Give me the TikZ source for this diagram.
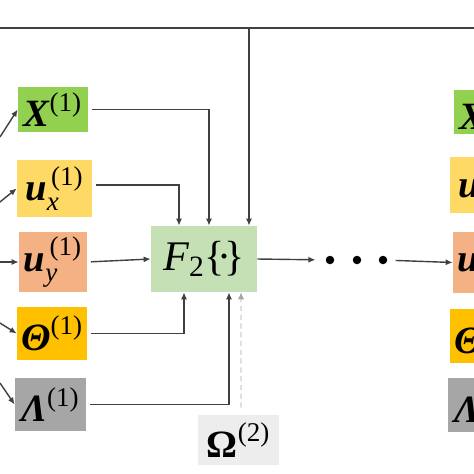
\documentclass[tikz,border=0pt]{standalone}
\usepackage{amsmath}
\usepackage{fontspec}
\setmainfont{Liberation Serif}
\usetikzlibrary{arrows.meta}

\definecolor{xgreen}{HTML}{92D050}
\definecolor{uxyellow}{HTML}{FFD966}
\definecolor{uysalmon}{HTML}{F4B183}
\definecolor{thorange}{HTML}{FFC000}
\definecolor{lagray}{HTML}{A6A6A6}
\definecolor{fgreen}{HTML}{C5E0B4}
\definecolor{omgray}{HTML}{EDEDED}
\definecolor{wire}{HTML}{404040}

\newcommand{\bi}[1]{\text{\bfseries\itshape #1}}
% u with index below and step above
\newcommand{\uvar}[2]{{\bi{u}\vphantom{\text{Xy}}}_{\text{\itshape #1}}^{\,\text{(#2)}}}

\begin{document}
\begin{tikzpicture}[x=0.02cm, y=-0.02cm,
    varbox/.style={inner sep=0pt, font=\fontsize{22}{26}\selectfont},
    arr/.style={draw=wire, line width=0.8pt, -{Latex[length=4pt,width=3.5pt]}},
    dot/.style={circle, fill=black, inner sep=0pt, minimum size=0.17cm}]
    \useasboundingbox (0,0) rectangle (474,474);
    \clip (0,0) rectangle (474,474);

    % step 1 inputs
    \node[varbox, fill=xgreen, minimum width=1.4cm, minimum height=0.9cm] (X) at (53,109.5) {$\bi{X}^{\text{(1)}}$};
    \node[varbox, fill=uxyellow, minimum width=1.5cm, minimum height=1.14cm] (ux) at (54.5,188.5) {$\uvar{x}{1}$};
    \node[varbox, fill=uysalmon, minimum width=1.36cm, minimum height=1.2cm] (uy) at (53,262) {$\uvar{y}{1}$};
    \node[varbox, fill=thorange, minimum width=1.4cm, minimum height=1.06cm] (Th) at (52,333.5) {$\bi{Θ}^{\text{(1)}}$};
    \node[varbox, fill=lagray, minimum width=1.42cm, minimum height=1.06cm] (La) at (50.5,404.5) {$\bi{Λ}^{\text{(1)}}$};

    % operator and parameters
    \node[varbox, fill=fgreen, minimum width=2.12cm, minimum height=1.32cm, font=\fontsize{24}{28}\selectfont] (F) at (204,259) {$\text{\itshape F}_{\text{2}}\text{\{}\!\text{·}\!\text{\}}$};
    \node[varbox, fill=omgray, minimum width=1.62cm, minimum height=1.0cm] (Om) at (238.5,440) {$\text{\bfseries Ω}^{\text{(2)}}$};

    \node[dot] (d1) at (330,260) {};
    \node[dot] (d2) at (357,260) {};
    \node[dot] (d3) at (383,260) {};

    % last step (cut off)
    \node[varbox, fill=xgreen, minimum width=1.4cm, minimum height=0.9cm] (X2) at (489,112) {$\bi{X}^{\text{(2)}}$};
    \node[varbox, fill=uxyellow, minimum width=1.5cm, minimum height=1.12cm] (ux2) at (487.5,185) {$\uvar{x}{2}$};
    \node[varbox, fill=uysalmon, minimum width=1.36cm, minimum height=1.22cm] (uy2) at (487,262.5) {$\uvar{y}{2}$};
    \node[varbox, fill=thorange, minimum width=1.4cm, minimum height=1.08cm] (Th2) at (485,336) {$\bi{Θ}^{\text{(2)}}$};
    \node[varbox, fill=lagray, minimum width=1.42cm, minimum height=1.08cm] (La2) at (483.5,405) {$\bi{Λ}^{\text{(2)}}$};

    % incoming from the left edge
    \coordinate (iX) at (0,137);
    \coordinate (iux) at (0,202);
    \coordinate (iuy) at (0,262);
    \coordinate (iTh) at (0,323);
    \coordinate (iLa) at (0,383);
    \draw[arr] (iX) -- (X.west);
    \draw[arr] (iux) -- (ux.west);
    \draw[arr] (iuy) -- (uy.west);
    \draw[arr] (iTh) -- (Th.west);
    \draw[arr] (iLa) -- (La.west);

    % top feedback line
    \coordinate (tl) at (0,28);
    \coordinate (tr) at (474,28);
    \coordinate (tj) at (249,28);
    \draw[wire, line width=0.8pt] (tl) -- (tr);
    \draw[arr] (tj) -- (tj |- F.north);

    \draw[arr, shorten <=2pt] (X.east) -| ([xshift=0.1cm]F.north);
    \draw[arr, shorten <=2pt] ([yshift=0.07cm]ux.east) -| ([xshift=-0.5cm]F.north);
    \draw[arr, shorten <=2pt] (uy.east) -- (F.west);
    \draw[arr, shorten <=2pt] (Th.east) -| ([xshift=-0.4cm]F.south);
    \draw[arr, shorten <=2pt] (La.east) -| ([xshift=0.5cm]F.south);
    \draw[gray!70, densely dashed, line width=0.5pt, -{Latex[length=4pt,width=3.5pt]}] ([xshift=0.05cm,yshift=0.14cm]Om.north) -- ([xshift=0.74cm]F.south);

    \draw[arr, shorten >=0.2cm] (F.east) -- (d1);
    \draw[arr, shorten <=0.16cm] (d3) -- (uy2.west);
\end{tikzpicture}
\end{document}
